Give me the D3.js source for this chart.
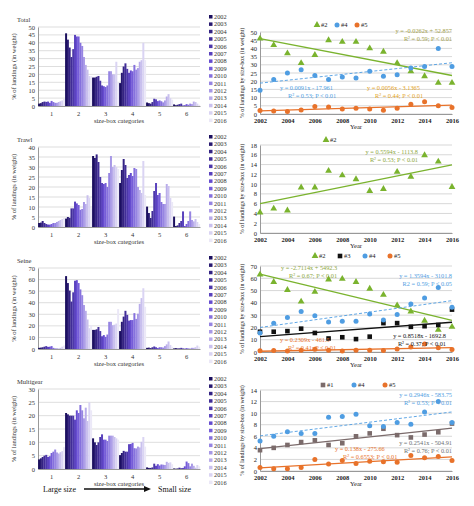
<!DOCTYPE html><html><head><meta charset="utf-8">
<script src="https://cdn.jsdelivr.net/npm/d3@7"></script>
<style>body{margin:0;background:#fff}text{font-family:"Liberation Serif",serif}</style></head><body>
<script>
const years=[2002,2003,2004,2005,2006,2007,2008,2009,2010,2011,2012,2013,2014,2015,2016];
const categories=["1","2","3","4","5","6"];
const totalBars=[
[1.5,1.8,2.5,2.8,2.6,2.8,2,3.2,2.5,2,2,2.5,3,3.5,4.5],
[46,42,37,31,36,45,44,44,40,38,31,26,23,19,19],
[18,18,18.5,19,16,13,12.5,12,13,22,22,20,20,28,15],
[14.5,21,25,27,23.5,21,22.5,22,26,23,24,28,29,40,29],
[2.2,1.8,1.5,2.5,4.6,4.2,3.1,3.5,3,2.3,3.5,6,7.5,5,4],
[1,0.5,0.8,1.2,1.5,0.3,0.5,1.2,0.8,1.5,1.2,2.8,2.5,1.5,0.8]];
const trawlBars=[
[2,2.2,3,2,1.5,1.2,1.2,1.5,2,2,2.5,3,3.5,4,4.5],
[4.2,5,4.6,9.3,9.3,12.7,11.8,11,8.6,9,12.5,11.5,15.9,14.6,9.4],
[35.5,34.5,36.3,32.5,25,22,21.5,22,20,27,35.5,30,31,30,29],
[22,28.5,34,31,24.5,26,27,25.5,29.5,29,20,18.5,17,33,16],
[10.2,7,4.5,8,18,22,16,17,12.5,11.5,11.5,21.5,20.5,14.5,12.5],
[5.2,0.5,0.8,2,3,7.8,0.5,1.5,3,7.8,3.5,2.8,4,2.5,1.5]];
const seineBars=[
[1,1.2,1.5,2,2.5,1.8,2,2.5,1,0.5,0.5,0.3,1,2,3],
[63,57,50.5,41,49,59,59.5,57,51.5,46.5,38,33,25.5,18,20.5],
[16.5,16.5,17,19,15.5,11,12,10.5,12.5,23.5,23.5,20.5,21,22,34.5],
[15.5,23.5,28,33,29.5,24.5,25,25,31,26,30.5,39,44,52.5,36.5],
[1,1.2,0.8,1.5,2.2,1.5,0.8,1.5,1.5,1.2,2.5,4,6.5,3.5,2],
[0.5,0.8,0.5,0.6,1,0.5,0.3,0.8,0.5,0.3,1,1,1.5,3,2]];
const multiBars=[
[3.6,4,4.5,5,5.3,4.5,4.8,6,6.5,7.3,6.2,5.8,6.3,6.7,8.2],
[21,20.5,20,20,20,18.5,22,21,24,22,19,23,18,25,22],
[11.5,10,9,10,12,13,11,11,10.5,12.5,12.5,12.5,12,11.5,11],
[5.2,6,6.8,6.5,6.5,9.3,9.4,9.8,7.8,7.7,8.4,8.1,10.2,12,8.4],
[0.6,0.4,0.4,0.6,2,1.2,1.8,1.3,1.7,1.6,1.5,2.7,2.3,2.5,1.8],
[0.2,0.1,0.2,0.5,0.3,0.4,1,2.8,2.2,1,2,1.2,0.5,1.5,1]];

const svg=d3.select("body").append("svg").attr("width",474).attr("height",506);
const col=d3.scaleLinear().domain([0,0.45,1]).range(["#1b0f5e","#6a4fd6","#ebe8f7"]);

function barPanel(title,data,max,step,top,bottom,showArrow){
  const x0=38,x1=200;
  const y=d3.scaleLinear().domain([0,max]).range([bottom,top]);
  const xb=d3.scaleBand().domain(categories).range([x0,x1]).paddingInner(0).paddingOuter(0);
  const xi=d3.scaleBand().domain(years).range([0,xb.bandwidth()]).paddingOuter(0.05);
  const g=svg.append("g");
  const ticks=d3.range(0,max+0.01,step);
  g.selectAll(".gl").data(ticks).join("line").attr("x1",x0).attr("x2",x1).attr("y1",d=>y(d)).attr("y2",d=>y(d)).attr("stroke","#c8c8c8").attr("stroke-width",0.6);
  g.append("g").attr("transform",`translate(${x0},0)`).call(d3.axisLeft(y).tickValues(ticks).tickSize(0).tickPadding(3))
   .call(a=>{a.select(".domain").attr("stroke","#999");a.selectAll("text").attr("font-size",6.5).attr("font-family","Liberation Serif").attr("fill","#333");});
  categories.forEach((c,ci)=>{
    g.selectAll(null).data(data[ci]).join("rect").attr("x",(d,i)=>xb(c)+xi(years[i])).attr("width",xi.bandwidth()+0.2)
     .attr("y",d=>y(d)).attr("height",d=>bottom-y(d)).attr("fill",(d,i)=>col(i/14));
  });
  g.append("g").attr("transform",`translate(0,${bottom})`).call(d3.axisBottom(xb).tickSize(0).tickPadding(5))
   .call(a=>{a.select(".domain").attr("stroke","#999");a.selectAll("text").attr("font-size",6.5).attr("font-family","Liberation Serif").attr("fill","#333");});
  g.append("text").attr("x",17).attr("y",top-5).attr("font-size",6.5).attr("fill","#333").text(title);
  g.append("text").attr("transform",`translate(16,${(top+bottom)/2}) rotate(-90)`).attr("text-anchor","middle").attr("font-size",6.5).attr("fill","#333").text("% of landings (in weight)");
  g.append("text").attr("x",(x0+x1)/2).attr("y",bottom+17).attr("text-anchor","middle").attr("font-size",6.5).attr("fill","#333").text("size-box categories");
  const lg=g.append("g").attr("transform",`translate(209,${top-9})`);
  years.forEach((yr,i)=>{lg.append("rect").attr("x",0).attr("y",i*7.4-3).attr("width",3.5).attr("height",3.5).attr("fill",col(i/14));
    lg.append("text").attr("x",5).attr("y",i*7.4+1).attr("font-size",6.3).attr("fill","#333").text(yr);});
  if(showArrow){
    g.append("text").attr("x",43).attr("y",bottom+23).attr("font-size",8).attr("fill","#111").text("Large size");
    g.append("text").attr("x",158).attr("y",bottom+23).attr("font-size",8).attr("fill","#111").text("Small size");
    g.append("line").attr("x1",84).attr("x2",144).attr("y1",bottom+20).attr("y2",bottom+20).attr("stroke","#111").attr("stroke-width",1.6);
    g.append("path").attr("d",`M144,${bottom+17}L151,${bottom+20}L144,${bottom+23}Z`).attr("fill","#111");
  }
}
barPanel("Total",totalBars,50,5,27,106);
barPanel("Trawl",trawlBars,40,5,147,227);
barPanel("Seine",seineBars,70,10,268,349);
barPanel("Multigear",multiBars,30,5,389,469,true);

function reg(v){const mx=d3.mean(years),my=d3.mean(v);
  const b=d3.sum(v,(d,i)=>(years[i]-mx)*(d-my))/d3.sum(years,x=>(x-mx)*(x-mx));return [b,my-b*mx];}
function sym(g,type,cx,cy,c){
  if(type==="tri") g.append("path").attr("d",d3.symbol(d3.symbolTriangle,20)()).attr("transform",`translate(${cx},${cy})`).attr("fill",c);
  else if(type==="sq") g.append("rect").attr("x",cx-2.3).attr("y",cy-2.3).attr("width",4.6).attr("height",4.6).attr("fill",c);
  else g.append("circle").attr("cx",cx).attr("cy",cy).attr("r",2.5).attr("fill",c);
}
function scatPanel(max,step,top,bottom,series,legY,eqs){
  const x0=260,x1=452;
  const x=d3.scaleLinear().domain([2002,2016]).range([x0,x1]);
  const y=d3.scaleLinear().domain([0,max]).range([bottom,top]);
  const g=svg.append("g");
  const ticks=d3.range(0,max+0.01,step);
  g.selectAll(null).data(ticks).join("line").attr("x1",x0).attr("x2",x1).attr("y1",d=>y(d)).attr("y2",d=>y(d)).attr("stroke","#bdbdbd").attr("stroke-width",0.6);
  g.append("g").attr("transform",`translate(${x0},0)`).call(d3.axisLeft(y).tickValues(ticks).tickSize(0).tickPadding(3))
   .call(a=>{a.select(".domain").attr("stroke","#999");a.selectAll("text").attr("font-size",6.5).attr("font-family","Liberation Serif").attr("fill","#222");});
  g.append("g").attr("transform",`translate(0,${bottom})`).call(d3.axisBottom(x).tickValues(d3.range(2002,2017,2)).tickFormat(d3.format("d")).tickSize(0).tickPadding(4))
   .call(a=>{a.select(".domain").attr("stroke","#999");a.selectAll("text").attr("font-size",6.5).attr("font-weight","bold").attr("font-family","Liberation Serif").attr("fill","#222");});
  g.append("text").attr("x",(x0+x1)/2).attr("y",bottom+15).attr("text-anchor","middle").attr("font-size",6.5).attr("fill","#222").text("Year");
  g.append("text").attr("transform",`translate(244,${(top+bottom)/2}) rotate(-90)`).attr("text-anchor","middle").attr("font-size",6).attr("fill","#222").text("% of landings by size-box (in weight)");
  series.forEach(s=>{
    const [b,a]=reg(s.v);
    g.append("line").attr("x1",x(2002)).attr("x2",x(2016)).attr("y1",y(a+b*2002)).attr("y2",y(a+b*2016))
     .attr("stroke",s.lc||s.c).attr("stroke-width",s.dash?0.9:1.3).attr("stroke-dasharray",s.dash?"3,2":null);
    s.v.forEach((d,i)=>sym(g,s.t,x(years[i]),y(d),s.c));
  });
  let lx=legY[0];
  series.forEach(s=>{sym(g,s.t,lx,legY[1]-2,s.c);g.append("text").attr("x",lx+4).attr("y",legY[1]).attr("font-size",6.5).attr("fill","#222").text(s.n);lx+=legY[2];});
  eqs.forEach(e=>{g.append("text").attr("x",e[0]).attr("y",e[1]).attr("text-anchor",e[3]||"start").attr("font-size",6.3).attr("fill",e[2]).text(e[4]);
    g.append("text").attr("x",e[0]+(e[3]==="end"?0:8)).attr("y",e[1]+8).attr("text-anchor",e[3]||"start").attr("font-size",6.3).attr("fill",e[2]).text(e[5]);});
}
const G="#7ab32e",B="#4f9de2",O="#e8722a",K="#111",M="#7b6b6b";
scatPanel(50,5,32,114,[{n:"#2",t:"tri",c:G,v:totalBars[1]},{n:"#4",t:"c",c:B,v:totalBars[3],dash:1},{n:"#5",t:"c",c:O,v:totalBars[4]}],[317,27,20],
 [[452,33,"#a3a04a","end","y = -0.0262x + 52.857","R² = 0.59; P < 0.01"],[280,90,B,"start","y = 0.0091x - 17.961","R² = 0.53; P < 0.01"],[367,90,"#e3a21a","start","y = 0.0056x - 3.1365","R² = 0.44; P < 0.01"]]);
scatPanel(18,2,145,233,[{n:"#2",t:"tri",c:G,v:trawlBars[1]}],[326,142,38],
 [[418,154,"#8da63d","end","y = 0.5594x - 1113.8","R² = 0.53; P < 0.01"]]);
scatPanel(70,10,266,352,[{n:"#2",t:"tri",c:G,v:seineBars[1]},{n:"#3",t:"sq",c:K,v:seineBars[2]},{n:"#4",t:"c",c:B,v:seineBars[3],dash:1},{n:"#5",t:"c",c:O,v:seineBars[4]}],[315,258,25],
 [[281,270,"#8da63d","start","y = -2.7114x + 5492.3","R² = 0.67; P < 0.01"],[452,278,B,"end","y = 1.3594x - 3101.8","R2 = 0.59; P < 0.05"],[446,338,K,"end","y = 0.8518x - 1692.8","R² = 0.37; P < 0.01"],[280,342,O,"start","y = 0.2309x - 461.5","R² = 0.41; P < 0.01"]]);
scatPanel(14,2,390,471,[{n:"#1",t:"sq",c:M,v:multiBars[0]},{n:"#4",t:"c",c:B,v:multiBars[3],dash:1},{n:"#5",t:"c",c:O,v:multiBars[4]}],[323,387,31],
 [[452,397,B,"end","y = 0.2946x - 583.75","R² = 0.53; P < 0.01"],[335,451,O,"start","y = 0.138x - 275.66","R² = 0.6553; P < 0.01"],[452,445,"#6b6f72","end","y = 0.2541x - 504.91","R² = 0.76; P < 0.01"]]);
</script></body></html>
